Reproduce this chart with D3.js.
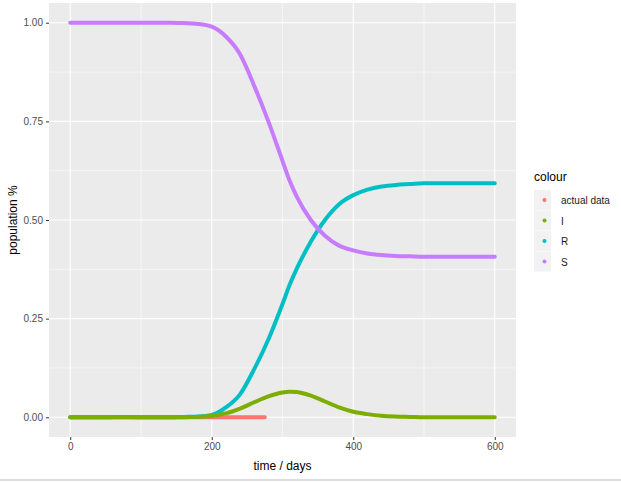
<!DOCTYPE html>
<html>
<head>
<meta charset="utf-8">
<script src="https://cdn.jsdelivr.net/npm/d3@7"></script>
<style>
body { margin: 0; background: #fff; font-family: "Liberation Sans", Arial, sans-serif; }
.axis text { fill: #4d4d4d; font-size: 10px; }
</style>
</head>
<body>
<div id="chart"></div>
<script>
'use strict';

// data
const days = [0, 20, 40, 60, 80, 100, 120, 140, 160, 180, 200, 220, 240, 260, 280, 300, 310, 320, 340, 360, 380, 400, 420, 440, 460, 480, 500, 520, 540, 560, 580, 600];
const sValues = [1, 1, 1, 1, 1, 1, 1, 1, 0.999, 0.997, 0.99, 0.965, 0.92, 0.84, 0.75, 0.65, 0.6, 0.56, 0.5, 0.46, 0.435, 0.423, 0.415, 0.411, 0.409, 0.408, 0.407, 0.407, 0.407, 0.407, 0.407, 0.407];
const iValues = [0, 0, 0, 0, 0, 0, 0, 0, 0, 0.001, 0.004, 0.01, 0.022, 0.038, 0.053, 0.063, 0.065, 0.064, 0.055, 0.04, 0.025, 0.014, 0.008, 0.004, 0.002, 0.001, 0, 0, 0, 0, 0, 0];
const rValues = [0, 0, 0, 0, 0, 0, 0, 0, 0.001, 0.002, 0.006, 0.025, 0.058, 0.122, 0.197, 0.287, 0.335, 0.376, 0.445, 0.5, 0.54, 0.563, 0.577, 0.585, 0.589, 0.591, 0.593, 0.593, 0.593, 0.593, 0.593, 0.593];
const actualDays = [0, 25, 50, 75, 100, 125, 150, 175, 200, 225, 250, 275];
const actualValues = [0, 0, 0, 0.001, 0, 0, 0, 0, 0, 0, 0, 0];
const xTicks = [0, 200, 400, 600];
const yTicks = [0, 0.25, 0.5, 0.75, 1];
const legendLabels = ['actual data', 'I', 'R', 'S'];
const legendColors = ['#F8766D', '#7CAE00', '#00BFC4', '#C77CFF'];

const margin = { left: 49, top: 3, right: 105, bottom: 45 };
const width = 621 - margin.left - margin.right;
const height = 482 - margin.top - margin.bottom;

const svg = d3.select('#chart').append('svg')
    .attr('width', 621).attr('height', 482);
const g = svg.append('g')
    .attr('transform', `translate(${margin.left}, ${margin.top})`);

const x = d3.scaleLinear().domain([-30, 630]).range([0, width]);
const y = d3.scaleLinear().domain([-0.05, 1.05]).range([height, 0]);

g.append('rect').attr('width', width).attr('height', height).attr('fill', '#EBEBEB');

// minor grid
const minorX = [100, 300, 500], minorY = [0.125, 0.375, 0.625, 0.875];
g.selectAll('.mx').data(minorX).join('line')
    .attr('x1', d => x(d)).attr('x2', d => x(d)).attr('y1', 0).attr('y2', height)
    .attr('stroke', '#fff').attr('stroke-width', 0.5);
g.selectAll('.my').data(minorY).join('line')
    .attr('y1', d => y(d)).attr('y2', d => y(d)).attr('x1', 0).attr('x2', width)
    .attr('stroke', '#fff').attr('stroke-width', 0.5);
// major grid
g.selectAll('.gx').data(xTicks).join('line')
    .attr('x1', d => x(d)).attr('x2', d => x(d)).attr('y1', 0).attr('y2', height)
    .attr('stroke', '#fff').attr('stroke-width', 1.1);
g.selectAll('.gy').data(yTicks).join('line')
    .attr('y1', d => y(d)).attr('y2', d => y(d)).attr('x1', 0).attr('x2', width)
    .attr('stroke', '#fff').attr('stroke-width', 1.1);

// curves
const series = [
    { xs: actualDays, ys: actualValues, color: legendColors[0] },
    { xs: days, ys: rValues, color: legendColors[2] },
    { xs: days, ys: iValues, color: legendColors[1] },
    { xs: days, ys: sValues, color: legendColors[3] }
];
const line = d3.line().x(d => x(d[0])).y(d => y(d[1])).curve(d3.curveMonotoneX);
series.forEach(s => {
    g.append('path')
        .datum(d3.zip(s.xs, s.ys))
        .attr('d', line)
        .attr('fill', 'none')
        .attr('stroke', s.color)
        .attr('stroke-width', 4)
        .attr('stroke-linecap', 'round');
});

// axes
const xAxis = g.append('g').attr('class', 'axis')
    .attr('transform', `translate(0, ${height})`)
    .call(d3.axisBottom(x).tickValues(xTicks).tickSize(3).tickPadding(3));
const yAxis = g.append('g').attr('class', 'axis')
    .call(d3.axisLeft(y).tickValues(yTicks).tickFormat(d3.format('.2f')).tickSize(3).tickPadding(3));
[xAxis, yAxis].forEach(a => {
    a.select('.domain').remove();
    a.selectAll('line').attr('stroke', '#333');
});

svg.append('text').attr('x', margin.left + width / 2).attr('y', 470)
    .attr('text-anchor', 'middle').attr('font-size', 12).text('time / days');
svg.append('text').attr('transform', `translate(17, ${margin.top + height / 2}) rotate(-90)`)
    .attr('text-anchor', 'middle').attr('font-size', 12).text('population %');

// legend
const legend = svg.append('g').attr('transform', 'translate(534, 0)');
legend.append('text').attr('x', 0).attr('y', 181).attr('font-size', 12).text('colour');
const item = legend.selectAll('.item').data(legendLabels).join('g')
    .attr('transform', (d, i) => `translate(0, ${190 + i * 20.5})`);
item.append('rect').attr('width', 17).attr('height', 20).attr('fill', '#F2F2F2');
item.append('circle').attr('cx', 10.5).attr('cy', 10).attr('r', 2)
    .attr('fill', (d, i) => legendColors[i]);
item.append('text').attr('x', 27).attr('y', 14).attr('font-size', 10).attr('fill', '#1a1a1a').text(d => d);

// bottom border line of screenshot
svg.append('line').attr('x1', 0).attr('x2', 621).attr('y1', 480).attr('y2', 480)
    .attr('stroke', '#ddd').attr('stroke-width', 2);
</script>
</body>
</html>
